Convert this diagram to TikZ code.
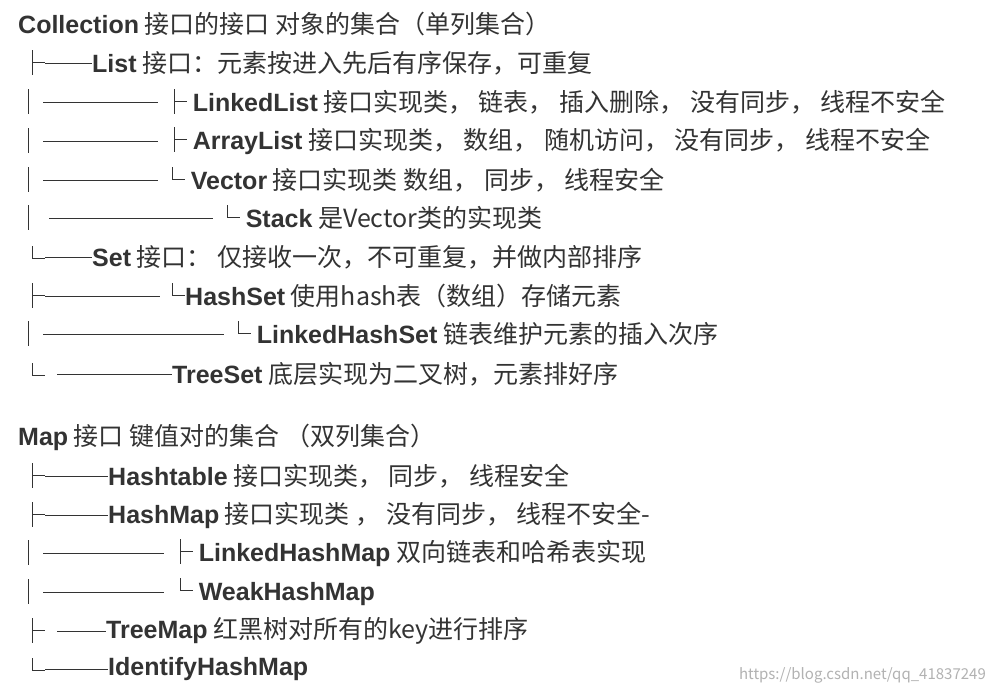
\documentclass[tikz,border=0pt]{standalone}
\usepackage{fontspec}
\setmainfont{Noto Sans CJK SC}[BoldFont=Liberation Sans Bold]
\usepackage{tikz}
\definecolor{ink}{HTML}{333333}
\tikzset{
  row/.style={anchor=west, inner sep=0pt, text=ink, font=\fontsize{25}{28}\selectfont},
  bar/.style={anchor=west, inner sep=0pt, text=ink, font=\fontsize{25}{28}\selectfont},
  stroke/.style={draw=ink, line width=0.9pt}
}
\begin{document}
\begin{tikzpicture}[x=1pt,y=-1pt]
  \useasboundingbox[fill=white] (0,0) rectangle (992,693);
  % ---- Collection ---------------------------------
  \node[row] (col) at (18,24) {\textbf{Collection} 接口的接口 对象的集合（单列集合）};
  \node[bar] (b1) at (20,63) {├};
  \node[row] (list) at (92,63) {\textbf{List} 接口：元素按进入先后有序保存，可重复};
  \node[bar] (b2) at (16,102) {│};
  \node[row] (linked) at (162,102) {├ \textbf{LinkedList} 接口实现类， 链表， 插入删除， 没有同步， 线程不安全};
  \node[bar] (b3) at (16,141) {│};
  \node[row] (array) at (162,141) {├ \textbf{ArrayList} 接口实现类， 数组， 随机访问， 没有同步， 线程不安全};
  \node[bar] (b4) at (16,180) {│};
  \node[row] (vector) at (160,180) {└ \textbf{Vector} 接口实现类 数组， 同步， 线程安全};
  \node[bar] (b5) at (16,218) {│};
  \node[row] (stack) at (215,218) {└ \textbf{Stack} 是Vector类的实现类};
  \node[bar] (b6) at (20,257) {└};
  \node[row] (set) at (92,257) {\textbf{Set} 接口： 仅接收一次，不可重复，并做内部排序};
  \node[bar] (b7) at (20,296) {├};
  \node[row] (hashset) at (160,296) {└\textbf{HashSet} 使用hash表（数组）存储元素};
  \node[bar] (b8) at (16,334) {│};
  \node[row] (lhset) at (226,334) {└ \textbf{LinkedHashSet} 链表维护元素的插入次序};
  \node[bar] (b9) at (20,374) {└};
  \node[row] (treeset) at (172,374) {\textbf{TreeSet} 底层实现为二叉树，元素排好序};
  % ---- Map ----------------------------------------
  \node[row] (map) at (18,437) {\textbf{Map} 接口 键值对的集合 （双列集合）};
  \node[bar] (b10) at (20,476) {├};
  \node[row] (htable) at (108,476) {\textbf{Hashtable} 接口实现类， 同步， 线程安全};
  \node[bar] (b11) at (20,515) {├};
  \node[row] (hmap) at (108,515) {\textbf{HashMap} 接口实现类 ， 没有同步， 线程不安全-};
  \node[bar] (b12) at (16,553) {│};
  \node[row] (lhmap) at (168,553) {├ \textbf{LinkedHashMap} 双向链表和哈希表实现};
  \node[bar] (b13) at (16,592) {│};
  \node[row] (whmap) at (168,592) {└ \textbf{WeakHashMap}};
  \node[bar] (b14) at (20,631) {├};
  \node[row] (tmap) at (106,631) {\textbf{TreeMap} 红黑树对所有的key进行排序};
  \node[bar] (b15) at (20,669) {└};
  \node[row] (ihmap) at (108,669) {\textbf{IdentifyHashMap}};
  % ---- dashes -------------------------------------
  \draw[stroke] (b1.east) -- (list.west);
  \draw[stroke] ([xshift=2pt]b2.east) -- ([xshift=-4pt]linked.west);
  \draw[stroke] ([xshift=2pt]b3.east) -- ([xshift=-4pt]array.west);
  \draw[stroke] ([xshift=2pt]b4.east) -- ([xshift=-2pt]vector.west);
  \draw[stroke] ([xshift=8pt]b5.east) -- ([xshift=-2pt]stack.west);
  \draw[stroke] (b6.east) -- (set.west);
  \draw[stroke] (b7.east) -- (hashset.west);
  \draw[stroke] ([xshift=2pt]b8.east) -- ([xshift=-2pt]lhset.west);
  \draw[stroke] ([xshift=12pt]b9.east) -- (treeset.west);
  \draw[stroke] (b10.east) -- (htable.west);
  \draw[stroke] (b11.east) -- (hmap.west);
  \draw[stroke] ([xshift=2pt]b12.east) -- ([xshift=-4pt]lhmap.west);
  \draw[stroke] ([xshift=2pt]b13.east) -- ([xshift=-4pt]whmap.west);
  \draw[stroke] ([xshift=12pt]b14.east) -- (tmap.west);
  \draw[stroke] (b15.east) -- (ihmap.west);
  % ---- watermark ----------------------------------
  \node[anchor=east, inner sep=0pt, text=gray!60, font=\fontsize{15}{17}\selectfont] (wm) at (986,675) {https://blog.csdn.net/qq\_41837249};
\end{tikzpicture}
\end{document}
